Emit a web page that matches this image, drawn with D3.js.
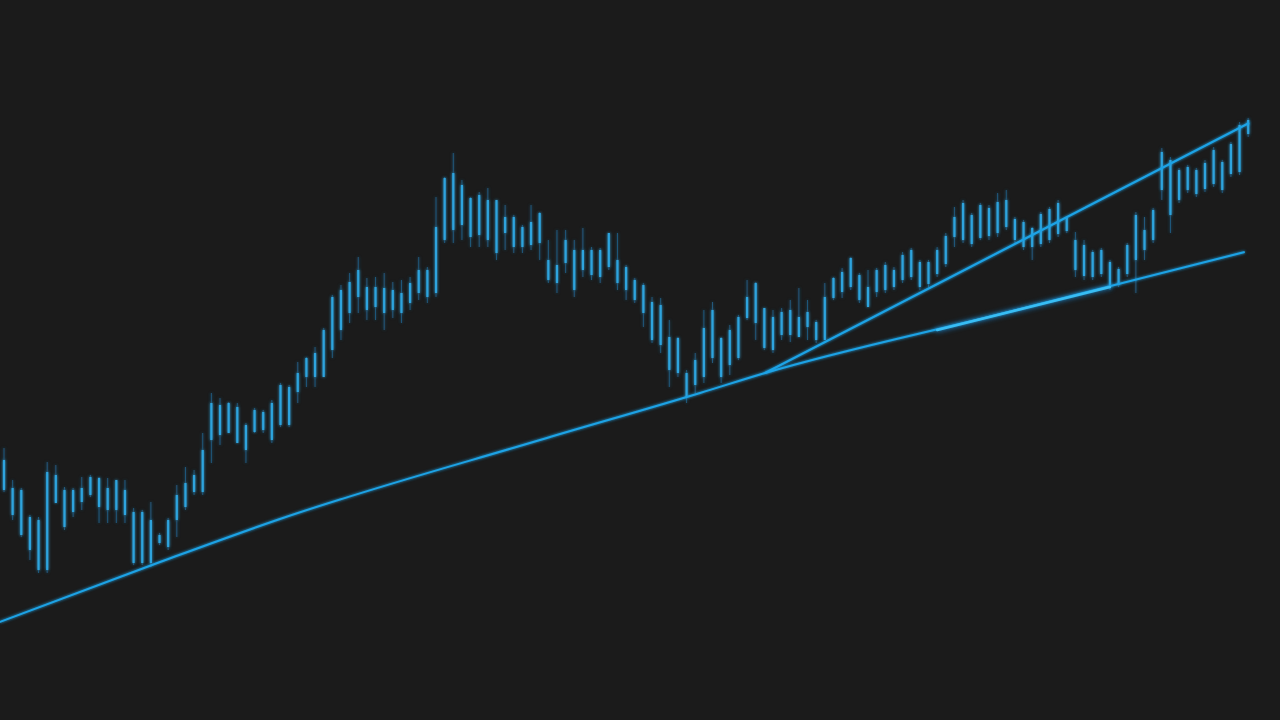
<!DOCTYPE html>
<html>
<head>
<meta charset="utf-8">
<script src="https://cdn.jsdelivr.net/npm/d3@7"></script>
<style>
  html, body { margin: 0; padding: 0; background: #1b1b1b; overflow: hidden; }
  svg { display: block; }
</style>
</head>
<body>
<svg id="chart" width="1280" height="720"></svg>
<script>
// ---- DATA (price units) ----
const high = [552,520,512,485,483,538,535,513,512,523,525,523,522,520,520,492,490,498,467,482,515,533,530,567,607,602,598,597,577,592,590,600,617,615,638,643,653,672,705,715,727,743,722,723,727,718,720,723,743,733,803,823,847,820,803,808,812,800,795,785,775,795,788,760,770,770,760,772,753,752,767,767,735,722,717,703,702,680,663,630,647,690,698,663,675,685,720,718,692,690,692,700,712,700,680,717,723,732,743,727,730,732,738,733,748,752,740,740,753,767,793,800,787,797,795,807,810,783,780,773,788,793,800,783,768,760,750,752,740,733,757,788,783,792,852,843,832,835,832,840,853,840,858,878,882];
const low  = [508,480,463,440,427,427,497,470,483,490,503,477,477,477,477,435,435,433,455,450,463,490,505,505,537,555,567,557,537,567,567,557,573,573,597,613,613,623,642,660,677,687,680,680,670,682,677,690,700,697,703,757,757,760,753,753,753,740,750,747,747,750,740,717,707,727,703,723,720,717,730,710,700,697,673,657,647,613,623,597,607,617,637,617,625,640,680,660,650,647,660,658,663,660,657,660,700,702,710,697,693,703,707,710,717,720,710,713,723,733,753,757,753,760,760,763,770,757,750,740,753,757,763,767,723,720,720,723,710,713,723,707,740,757,800,767,797,807,803,808,813,807,823,825,863];
const bodyHi = [540,512,510,483,480,528,525,510,510,512,523,522,512,520,510,488,488,480,465,480,505,517,525,550,597,595,597,593,575,590,588,597,615,613,627,642,647,670,703,710,718,730,713,713,712,710,707,717,730,730,773,822,827,815,802,805,800,800,783,783,773,778,787,740,735,760,750,750,750,750,767,740,733,720,715,698,695,663,662,627,640,672,690,662,670,683,703,717,692,683,688,690,683,688,678,703,722,728,742,725,713,730,735,730,745,750,738,738,750,764,783,797,785,795,792,798,800,781,778,772,786,791,797,782,760,755,748,750,738,731,755,785,770,790,848,840,830,833,830,837,850,838,856,875,880];
const bodyLo = [510,485,465,450,430,430,497,473,488,498,505,493,490,490,485,437,437,437,457,453,480,493,508,508,560,565,567,557,550,568,570,560,575,575,608,623,623,623,650,670,687,703,690,693,687,690,687,697,707,703,707,760,770,775,763,765,760,747,767,753,753,755,757,720,717,737,710,730,725,723,733,717,710,700,687,660,655,630,627,603,615,623,642,623,635,642,682,677,652,650,665,665,663,673,660,660,702,708,713,700,693,708,710,713,720,723,713,716,726,736,763,760,756,762,764,767,773,760,753,753,756,760,766,769,730,724,723,726,713,715,726,740,750,760,810,785,800,810,806,811,816,810,826,828,866];

// trend lines: [candle index, price]
const supportLine = [[-0.5,378],[18.06,438],[31.94,481],[62.04,560],[80.56,607],[88.08,627],[115.3,686],[143.6,748]];
const upperLine   = [[88.08,627],[144.1,877]];
const glowSegment = [[108,670],[128,713]];

// ---- CHART ----
const W = 1280, H = 720;
const svg = d3.select("#chart");
svg.append("rect").attr("width", W).attr("height", H).attr("fill", "#1b1b1b");

const defs = svg.append("defs");
const glow = defs.append("filter").attr("id", "glow").attr("x", "-20%").attr("y", "-20%").attr("width", "140%").attr("height", "140%");
glow.append("feGaussianBlur").attr("stdDeviation", 1.4).attr("result", "b");
const m = glow.append("feMerge");
m.append("feMergeNode").attr("in", "b");
m.append("feMergeNode").attr("in", "SourceGraphic");

const bigGlow = defs.append("filter").attr("id", "bigglow").attr("x", "-20%").attr("y", "-50%").attr("width", "140%").attr("height", "200%");
bigGlow.append("feGaussianBlur").attr("stdDeviation", 2.5);

const x = d3.scaleLinear().domain([0, high.length - 1]).range([4, 1248.2]);
const y = d3.scaleLinear().domain([280, 1000]).range([H, 0]);

const idx = d3.range(high.length);

const candles = svg.append("g").attr("filter", "url(#glow)");
candles.selectAll("line.wick").data(idx).join("line")
  .attr("class", "wick")
  .attr("x1", i => x(i)).attr("x2", i => x(i))
  .attr("y1", i => y(high[i])).attr("y2", i => y(low[i]))
  .attr("stroke", "#225f86").attr("stroke-width", 1).attr("opacity", 0.9);
candles.selectAll("rect.body").data(idx).join("rect")
  .attr("class", "body")
  .attr("x", i => x(i) - 1.1).attr("width", 2.2)
  .attr("y", i => y(Math.max(bodyHi[i], bodyLo[i])))
  .attr("height", i => Math.max(1, Math.abs(y(bodyLo[i]) - y(bodyHi[i]))))
  .attr("fill", "#2ea4de");

const line = d3.line().x(d => x(d[0])).y(d => y(d[1])).curve(d3.curveMonotoneX);

const lines = svg.append("g");
lines.append("path").datum(glowSegment).attr("d", line)
  .attr("fill", "none").attr("stroke", "#1a8fe0").attr("stroke-width", 5)
  .attr("stroke-linecap", "round")
  .attr("opacity", 0.55).attr("filter", "url(#bigglow)");
[supportLine, upperLine].forEach(pts => {
  lines.append("path").datum(pts).attr("d", line)
    .attr("fill", "none").attr("stroke", "#1fa3e6").attr("stroke-width", 2)
    .attr("filter", "url(#glow)");
});
lines.append("path").datum(glowSegment).attr("d", line)
  .attr("fill", "none").attr("stroke", "#38bdf4").attr("stroke-width", 2.4)
  .attr("stroke-linecap", "round");
</script>
</body>
</html>
